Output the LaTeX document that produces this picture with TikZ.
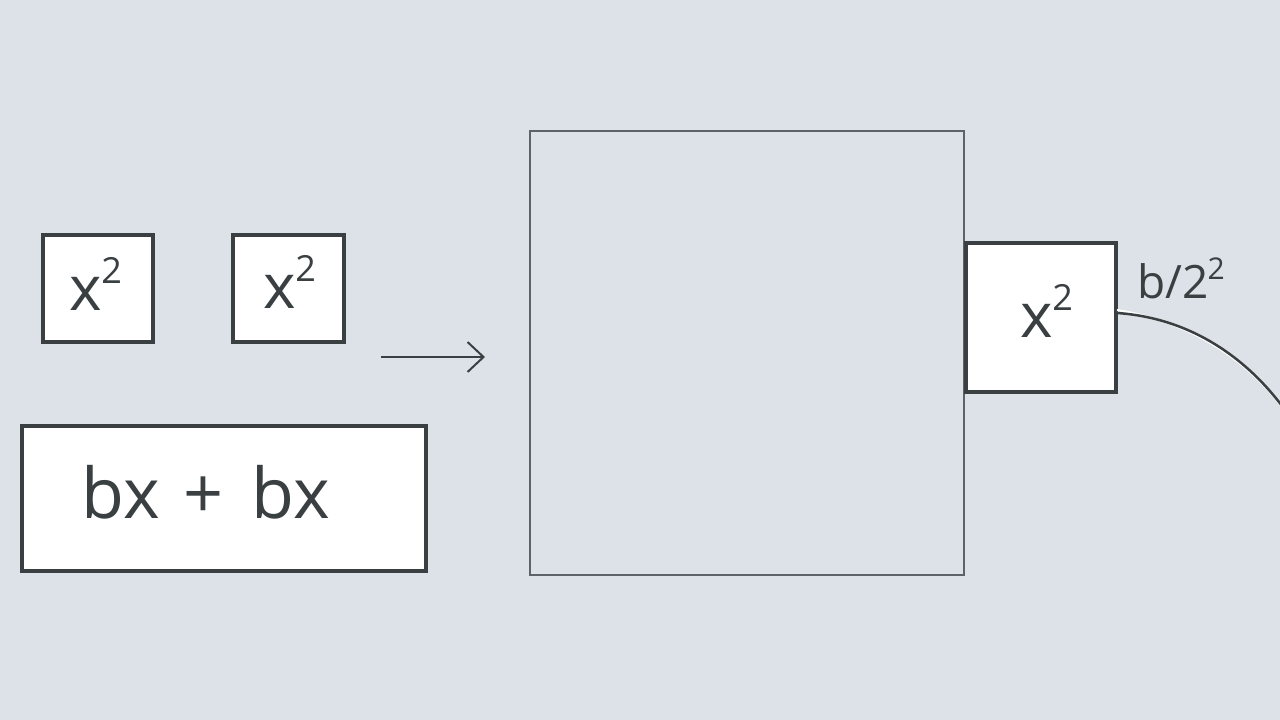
\documentclass[tikz,border=0pt]{standalone}
\usepackage{fontspec}
\setmainfont{Open Sans}
\usetikzlibrary{arrows.meta}
\definecolor{bg}{HTML}{DCE2E7}
\definecolor{ink}{HTML}{3A3F42}
\definecolor{thin}{HTML}{5E6367}
\newcommand{\xsq}{x\kern-1pt\raisebox{0.42em}{\fontsize{36}{36}\selectfont 2}}
\tikzset{
  thickbox/.style={draw=ink, line width=3.6pt, fill=white, inner sep=0pt},
  txt/.style={text=ink, inner sep=0pt, anchor=base},
  sqfont/.style={font=\fontsize{62}{62}\selectfont},
}
\begin{document}
\begin{tikzpicture}[x=1pt,y=-1pt]
\fill[bg] (0,0) rectangle (1280,720);
\useasboundingbox (0,0) rectangle (1280,720);
% small boxes
\node[thickbox, minimum width=110, minimum height=107] (a) at (98,288.5) {};
\node[txt, sqfont] (at) at (96,310) {\xsq};
\node[thickbox, minimum width=111, minimum height=107] (b) at (288.5,288.5) {};
\node[txt, sqfont] (bt) at (290,308) {\xsq};
\node[thickbox, minimum width=404, minimum height=145] (c) at (224,498.5) {};
\node[txt, font=\fontsize{70}{70}\selectfont] (ct) at (206,518) {bx\hspace{24pt}+\hspace{28pt}bx};
% big square
\node[draw=thin, line width=1.3pt, minimum width=434, minimum height=444, inner sep=0pt] (big) at (747,353) {};
% right box
\node[thickbox, minimum width=150, minimum height=149] (d) at (1041,317.5) {};
\node[txt, sqfont] (dt) at (1047,337) {\xsq};
% label
\node[txt, font=\fontsize{46}{46}\selectfont, anchor=base west] (lbl) at (1137,298) {b/2\kern-1pt\raisebox{0.4em}{\fontsize{30}{30}\selectfont 2}};
% arrow
\coordinate (p1) at (381,357);
\coordinate (p2) at (485,357);
\draw[ink, line width=2pt, -{Straight Barb[length=16pt,width=30pt,line width=2pt]}] (p1) -- (p2);
% curve
\coordinate (q1) at (1117,313);
\coordinate (q2) at (1292,420);
\begin{scope}
\clip (0,0) rectangle (1280,720);
\draw[white, line width=2pt] ([yshift=3pt]q1) .. controls (1192,322) and (1252,362) .. ([xshift=-3pt,yshift=3pt]q2);
\draw[ink, line width=2.5pt] (q1) .. controls (1192,318) and (1252,360) .. (q2);
\end{scope}
\end{tikzpicture}
\end{document}
